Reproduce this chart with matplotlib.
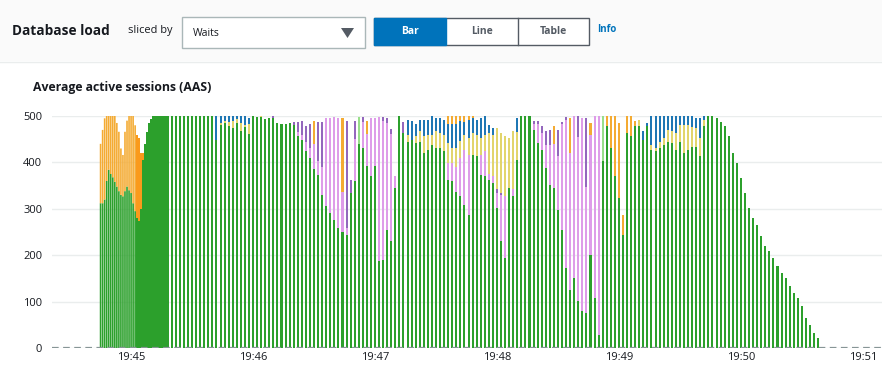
import numpy as np
import matplotlib.pyplot as plt
from matplotlib.patches import Rectangle, Polygon

plt.rcParams['font.family'] = ['Open Sans', 'DejaVu Sans']

# seconds after 19:45:00
# part A: 1s bars with gaps, part B: 1s bars packed, part C: 2s bars
t_a = list(range(-15, 3))
t_b = list(range(3, 18))
t_c = list(range(18, 340, 2))

green_a = [312, 312, 320, 360, 384, 375, 368, 358, 348, 338, 330, 327, 338, 348, 340, 334, 312, 295]
amber_a = [128, 158, 175, 140, 116, 125, 132, 142, 137, 128, 100, 89, 128, 142, 160, 166, 188, 185]

green_b = [280, 274, 300, 405, 440, 466, 485, 494, 500, 500, 500, 500, 500, 500, 500]
orange_b = [180, 178, 120, 15, 0, 0, 0, 0, 0, 0, 0, 0, 0, 0, 0]

green_c = [
    500, 500, 500, 500, 500, 500, 500, 500, 500, 500,
    500, 500, 449, 480, 485, 478, 475, 485, 467, 476,
    462, 500, 498, 497, 494, 495, 495, 485, 483, 483,
    485, 481, 456, 449, 424, 410, 385, 373, 330, 305,
    290, 276, 258, 250, 244, 335, 360, 440, 431, 392,
    370, 392, 187, 190, 255, 230, 345, 500, 463, 445,
    449, 442, 445, 420, 427, 438, 431, 431, 424, 363,
    359, 337, 327, 309, 287, 416, 413, 373, 370, 363,
    356, 301, 230, 194, 345, 327, 405, 500, 500, 500,
    470, 442, 427, 388, 352, 345, 298, 255, 172, 126,
    151, 101, 79, 76, 201, 108, 29, 403, 478, 431,
    370, 323, 244, 463, 456, 478, 478, 449, 478, 427,
    424, 431, 438, 445, 442, 427, 445, 420, 427, 434,
    434, 413, 478, 500, 500, 495, 488, 478, 456, 420,
    399, 366, 334, 302, 280, 266, 241, 219, 208, 194,
    176, 162, 151, 133, 118, 108, 90, 65, 50, 33,
    22,
]
lightgreen_c = [
    0, 0, 0, 0, 0, 0, 0, 0, 0, 0,
    0, 0, 0, 0, 0, 0, 0, 0, 0, 0,
    0, 0, 0, 0, 0, 0, 0, 0, 0, 0,
    0, 0, 0, 0, 0, 0, 0, 0, 0, 0,
    0, 0, 0, 0, 0, 0, 0, 58, 0, 0,
    0, 0, 0, 0, 0, 0, 0, 0, 0, 0,
    0, 0, 0, 0, 0, 0, 0, 0, 0, 0,
    0, 0, 0, 0, 0, 0, 0, 0, 0, 0,
    0, 0, 0, 0, 0, 0, 0, 0, 0, 0,
    0, 0, 0, 0, 0, 0, 0, 0, 0, 0,
    0, 0, 0, 0, 0, 0, 0, 97, 0, 0,
    0, 0, 0, 0, 0, 0, 0, 0, 0, 0,
    0, 0, 0, 0, 0, 0, 0, 0, 0, 0,
    0, 0, 0, 0, 0, 0, 0, 0, 0, 0,
    0, 0, 0, 0, 0, 0, 0, 0, 0, 0,
    0, 0, 0, 0, 0, 0, 0, 0, 0, 0,
    0,
]
lilac_c = [
    0, 0, 0, 0, 0, 0, 0, 0, 0, 0,
    0, 0, 0, 0, 0, 0, 0, 0, 0, 0,
    0, 0, 0, 0, 0, 0, 0, 0, 0, 0,
    0, 0, 10, 10, 20, 20, 55, 30, 60, 190,
    205, 222, 237, 87, 15, 0, 90, 0, 55, 70,
    125, 103, 311, 300, 230, 232, 25, 0, 0, 0,
    0, 0, 0, 0, 0, 0, 0, 0, 0, 36,
    40, 54, 83, 118, 129, 0, 0, 43, 54, 11,
    14, 32, 100, 133, 0, 15, 0, 0, 0, 0,
    12, 40, 36, 50, 86, 94, 115, 228, 320, 295,
    349, 353, 416, 270, 259, 392, 471, 0, 0, 0,
    0, 0, 0, 0, 0, 0, 0, 0, 0, 0,
    0, 0, 0, 0, 0, 0, 0, 0, 0, 0,
    0, 0, 0, 0, 0, 0, 0, 0, 0, 0,
    0, 0, 0, 0, 0, 0, 0, 0, 0, 0,
    0, 0, 0, 0, 0, 0, 0, 0, 0, 0,
    0,
]
purple_c = [
    0, 0, 0, 0, 0, 0, 0, 0, 0, 0,
    0, 0, 0, 0, 0, 0, 0, 0, 0, 0,
    0, 0, 0, 0, 0, 0, 5, 0, 0, 0,
    0, 7, 22, 31, 34, 52, 0, 85, 98, 0,
    0, 0, 0, 0, 231, 27, 40, 0, 12, 0,
    0, 0, 0, 8, 10, 10, 0, 0, 25, 0,
    0, 0, 0, 0, 0, 0, 0, 0, 0, 0,
    0, 0, 0, 0, 0, 0, 0, 0, 0, 0,
    0, 9, 3, 0, 0, 0, 0, 0, 0, 0,
    8, 7, 15, 29, 32, 0, 57, 5, 5, 0,
    0, 46, 0, 150, 0, 0, 0, 0, 0, 0,
    0, 0, 0, 0, 0, 0, 0, 0, 0, 0,
    0, 0, 0, 0, 0, 0, 0, 0, 0, 0,
    0, 0, 0, 0, 0, 0, 0, 0, 0, 0,
    0, 0, 0, 0, 0, 0, 0, 0, 0, 0,
    0, 0, 0, 0, 0, 0, 0, 0, 0, 0,
    0,
]
yellow_c = [
    0, 0, 0, 0, 0, 0, 0, 0, 0, 0,
    0, 0, 0, 5, 5, 10, 15, 8, 17, 5,
    20, 0, 0, 3, 0, 0, 0, 0, 0, 0,
    0, 0, 0, 0, 0, 0, 0, 0, 0, 0,
    0, 0, 0, 0, 0, 0, 0, 0, 0, 0,
    0, 0, 0, 0, 0, 0, 0, 0, 0, 15,
    0, 15, 22, 36, 32, 22, 36, 32, 36, 43,
    32, 40, 36, 32, 36, 47, 47, 36, 36, 90,
    90, 133, 130, 130, 108, 125, 61, 0, 0, 0,
    0, 0, 0, 0, 0, 0, 0, 0, 0, 0,
    0, 0, 0, 0, 0, 0, 0, 0, 0, 0,
    0, 0, 0, 0, 0, 0, 14, 0, 0, 11,
    7, 14, 14, 25, 25, 36, 36, 61, 54, 43,
    40, 40, 14, 0, 0, 0, 0, 0, 0, 0,
    0, 0, 0, 0, 0, 0, 0, 0, 0, 0,
    0, 0, 0, 0, 0, 0, 0, 0, 0, 0,
    0,
]
blue_c = [
    0, 0, 0, 0, 0, 0, 0, 0, 0, 0,
    0, 0, 51, 15, 10, 12, 10, 7, 15, 19,
    13, 0, 0, 0, 0, 0, 0, 0, 0, 0,
    0, 0, 0, 0, 0, 0, 0, 0, 0, 0,
    0, 0, 0, 0, 0, 0, 0, 0, 0, 0,
    0, 0, 0, 0, 0, 0, 0, 0, 0, 32,
    40, 25, 25, 36, 33, 40, 29, 33, 32, 40,
    51, 51, 43, 29, 40, 32, 32, 43, 40, 16,
    15, 0, 0, 0, 0, 0, 29, 0, 0, 0,
    0, 0, 0, 0, 0, 0, 0, 0, 0, 0,
    0, 0, 0, 0, 0, 0, 0, 0, 0, 0,
    0, 0, 0, 0, 0, 0, 0, 18, 7, 62,
    69, 55, 48, 30, 33, 37, 19, 19, 19, 23,
    21, 42, 7, 0, 0, 0, 0, 0, 0, 0,
    0, 0, 0, 0, 0, 0, 0, 0, 0, 0,
    0, 0, 0, 0, 0, 0, 0, 0, 0, 0,
    0,
]
amber_c = [
    0, 0, 0, 0, 0, 0, 0, 0, 0, 0,
    0, 0, 0, 0, 0, 0, 0, 0, 0, 0,
    0, 0, 0, 0, 0, 0, 0, 0, 0, 0,
    0, 0, 0, 0, 0, 0, 50, 0, 0, 0,
    0, 0, 0, 158, 0, 0, 0, 0, 0, 28,
    0, 0, 0, 0, 0, 0, 0, 0, 0, 0,
    0, 0, 0, 0, 0, 0, 0, 0, 0, 18,
    18, 18, 11, 12, 8, 5, 0, 0, 0, 0,
    0, 0, 0, 0, 0, 0, 0, 0, 0, 0,
    0, 0, 0, 0, 0, 39, 0, 0, 0, 75,
    0, 0, 0, 0, 25, 0, 0, 0, 22, 69,
    130, 162, 43, 37, 44, 12, 0, 0, 0, 0,
    0, 0, 0, 0, 0, 0, 0, 0, 0, 0,
    0, 0, 0, 0, 0, 0, 0, 0, 0, 0,
    0, 0, 0, 0, 0, 0, 0, 0, 0, 0,
    0, 0, 0, 0, 0, 0, 0, 0, 0, 0,
    0,
]

tick_times = [0, 60, 120, 180, 240, 300, 360]
tick_labels = ['19:45', '19:46', '19:47', '19:48', '19:49', '19:50', '19:51']

for s in [green_c, lightgreen_c, lilac_c, purple_c, yellow_c, blue_c, amber_c]:
    assert len(s) == len(t_c), len(s)

COL = {'green': '#2ca02c', 'orange': '#fa9a1c', 'lightgreen': '#98df8a', 'lilac': '#de9ce9',
       'purple': '#9467bd', 'yellow': '#e2d56c', 'blue': '#1f77b4', 'amber': '#f4ab33'}

# (times, bar width in seconds, snap, stacked series bottom -> top)
parts = [
    (t_a, 0.8, False, [('green', green_a), ('amber', amber_a)]),
    (t_b, 1.05, None, [('green', green_b), ('orange', orange_b)]),
    (t_c, 1.0, None, [('green', green_c), ('lightgreen', lightgreen_c), ('lilac', lilac_c),
                      ('purple', purple_c), ('yellow', yellow_c), ('blue', blue_c),
                      ('amber', amber_c)]),
]

fig = plt.figure(figsize=(8.82, 3.73), dpi=100)
fig.patch.set_facecolor('white')

# header / page chrome in pixel coords
bg = fig.add_axes([0, 0, 1, 1])
bg.set_xlim(0, 882)
bg.set_ylim(373, 0)
bg.axis('off')
bg.add_patch(Rectangle((0, 0), 882, 61, facecolor='#fafafa', lw=0))
bg.plot([0, 882], [61.5, 61.5], color='#eaeded', lw=1)
txt = '#16191f'
bg.text(12, 31, 'Database load', fontsize=9.8, fontweight='bold', va='center', color=txt)
bg.text(128, 30, 'sliced by', fontsize=7.9, va='center', color=txt)
bg.add_patch(Rectangle((181.5, 16.5), 183, 31, facecolor='white', edgecolor='#aab7b8', lw=1))
bg.text(193, 33, 'Waits', fontsize=7.5, va='center', color=txt)
bg.add_patch(Polygon([[341, 28], [354, 28], [347.5, 38]], closed=True, color='#545b64', lw=0))
bg.add_patch(Rectangle((373.5, 17.5), 215, 27, facecolor='white', edgecolor='#545b64', lw=1))
bg.add_patch(Rectangle((373.5, 17.5), 72, 27, facecolor='#0073bb', edgecolor='#0073bb', lw=1))
bg.plot([517.5, 517.5], [17.5, 44.5], color='#545b64', lw=1)
bg.text(409.5, 31, 'Bar', fontsize=7.5, fontweight='bold', ha='center', va='center', color='white')
bg.text(481.5, 31, 'Line', fontsize=7.5, fontweight='bold', ha='center', va='center', color='#545b64')
bg.text(553, 31, 'Table', fontsize=7.5, fontweight='bold', ha='center', va='center', color='#545b64')
bg.text(597, 30, 'Info', fontsize=7, fontweight='bold', va='center', color='#0073bb')
bg.text(33, 88, 'Average active sessions (AAS)', fontsize=8.8, fontweight='bold', va='center', color=txt)

ax = fig.add_axes([52 / 882, 25 / 373, 830 / 882, 232 / 373])
ax.patch.set_alpha(0)
for times, w, snap, stack in parts:
    x = np.array(times, dtype=float)
    bottom = np.zeros(len(x))
    for name, vals in stack:
        v = np.array(vals, dtype=float)
        bars = ax.bar(x, v, width=w, bottom=bottom, color=COL[name], linewidth=0, zorder=2)
        for b in bars:
            b.set_snap(snap)
        bottom += v

ax.set_xlim(-38.9, 369.4)
ax.set_ylim(0, 500)
ax.set_yticks([0, 100, 200, 300, 400, 500])
ax.set_xticks(tick_times)
ax.set_xticklabels(tick_labels)
ax.yaxis.grid(True, color='#eaeded', lw=1, zorder=0)
ax.set_axisbelow(True)
ax.axhline(0, color='#879596', lw=1.6, ls=(0, (3, 2)), zorder=3)
ax.tick_params(axis='both', length=0, labelsize=8, colors=txt)
ax.tick_params(axis='y', pad=7)
ax.tick_params(axis='x', pad=3)
for sp in ax.spines.values():
    sp.set_visible(False)

fig.savefig('out.png', dpi=100)
